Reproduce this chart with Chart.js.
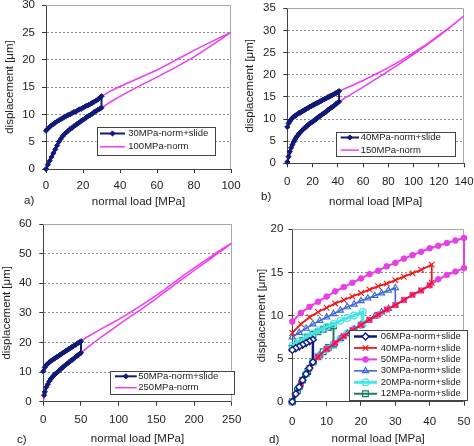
<!DOCTYPE html>
<html><head><meta charset="utf-8">
<script src="https://cdn.jsdelivr.net/npm/chart.js@4.4.0/dist/chart.umd.min.js"></script>
<style>
html,body{margin:0;padding:0;background:#fff;}
#wrap{position:relative;width:474px;height:446px;overflow:hidden;background:#fff;}
#wrap canvas{position:absolute;left:0;top:0;}
</style></head><body>
<div id="wrap">
<canvas id="ca" width="474" height="446"></canvas>
<canvas id="cb" width="474" height="446"></canvas>
<canvas id="cc" width="474" height="446"></canvas>
<canvas id="cd" width="474" height="446"></canvas>
</div>
<script>
// ---------- tick labels ----------
const aXTicks = [0,20,40,60,80,100];
const aYTicks = [0,5,10,15,20,25,30];
const bXTicks = [0,20,40,60,80,100,120,140];
const bYTicks = [0,5,10,15,20,25,30,35];
const cXTicks = [0,50,100,150,200,250];
const cYTicks = [0,10,20,30,40,50,60];
const dXTicks = [0,10,20,30,40,50];
const dYTicks = [0,5,10,15,20];
const xTitle = 'normal load [MPa]';
const yTitle = 'displacement [\u03bcm]';

// ---------- a) ----------
const aLabels = ['30MPa-norm+slide','100MPa-norm'];
const aSlideLoadX = [0,1,2,3,4,5,6,7,8,9,10,11,12,13,14,15,16,17,18,19,20,21,22,23,24,25,26,27,28,29,30];
const aSlideLoadY = [0,0.8,1.5,2.2,2.9,3.6,4.3,5.0,5.5,6.0,6.4,6.7,7.0,7.3,7.5,7.8,8.0,8.3,8.5,8.8,9.0,9.2,9.5,9.7,9.9,10.1,10.4,10.6,10.8,11.0,11.2];
const aSlideUnloadX = [30,29,28,27,26,25,24,23,22,21,20,19,18,17,16,15,14,13,12,11,10,9,8,7,6,5,4,3,2,1,0];
const aSlideUnloadY = [13.3,13.0,12.7,12.5,12.3,12.1,11.9,11.7,11.6,11.4,11.2,11.0,10.9,10.7,10.5,10.4,10.2,10.0,9.9,9.7,9.5,9.3,9.1,8.9,8.7,8.5,8.2,8.0,7.7,7.4,7.0];
const aNormX = [0,2,5,10,15,20,25,30,35,40,50,60,70,80,90,100,90,80,70,60,50,40,35,30];
const aNormY = [0,1.5,3.6,6.4,7.8,9.0,10.1,11.2,12.3,13.3,15.1,16.8,18.6,20.5,22.7,25.0,23.4,21.7,19.9,18.1,16.6,15.1,14.3,13.3];

// ---------- b) ----------
const bLabels = ['40MPa-norm+slide','150MPa-norm'];
const bSlideLoadX = [0,1,2,3,4,5,6,7,8,9,10,11,12,13,14,15,16,17,18,19,20,21,22,23,24,25,26,27,28,29,30,31,32,33,34,35,36,37,38,39,40,41];
const bSlideLoadY = [0.3,1.5,2.6,3.5,4.2,4.8,5.3,5.8,6.2,6.6,6.9,7.2,7.5,7.8,8.0,8.3,8.5,8.8,9.0,9.2,9.4,9.6,9.8,10.0,10.3,10.5,10.7,10.9,11.1,11.3,11.5,11.7,12.0,12.2,12.4,12.6,12.8,13.0,13.3,13.5,13.7,13.9];
const bSlideUnloadX = [41,40,39,38,37,36,35,34,33,32,31,30,29,28,27,26,25,24,23,22,21,20,19,18,17,16,15,14,13,12,11,10,9,8,7,6,5,4,3,2,1,0];
const bSlideUnloadY = [16.3,16.1,15.9,15.8,15.6,15.5,15.3,15.2,15.0,14.9,14.7,14.6,14.4,14.3,14.1,14.0,13.8,13.7,13.5,13.4,13.2,13.1,12.9,12.8,12.6,12.4,12.3,12.1,11.9,11.8,11.6,11.4,11.3,11.1,10.9,10.7,10.5,10.2,9.9,9.5,9.0,8.2];
const bNormX = [0,5,10,20,30,41,50,60,70,80,90,100,110,120,130,140,130,120,110,100,90,80,70,60,50,41];
const bNormY = [0,4.8,6.9,9.4,11.5,13.9,15.5,17.2,19.0,20.8,22.7,24.6,26.6,28.7,30.9,33.3,31.0,28.9,26.8,25.0,23.2,21.6,20.1,18.7,17.4,16.3];

// ---------- c) ----------
const cLabels = ['50MPa-norm+slide','250MPa-norm'];
const cSlideLoadX = [1,2,4,6,8,10,12,14,16,18,20,22,24,26,28,30,32,34,36,38,40,42,44,46,48,50];
const cSlideLoadY = [2.2,3.3,4.9,5.9,6.9,7.7,8.3,8.9,9.4,9.8,10.3,10.7,11.2,11.6,12.1,12.5,12.9,13.3,13.7,14.1,14.5,14.9,15.3,15.7,16.1,16.5];
const cSlideUnloadX = [50,48,46,44,42,40,38,36,34,32,30,28,26,24,22,20,18,16,14,12,10,8,6,4,2,0];
const cSlideUnloadY = [20.4,20.1,19.8,19.4,19.1,18.8,18.5,18.1,17.8,17.5,17.1,16.8,16.5,16.1,15.8,15.4,15.1,14.8,14.4,14.1,13.7,13.3,12.9,12.3,11.6,10.3];
const cNormX = [0,2,10,20,30,40,50,60,70,80,90,100,110,120,130,140,150,160,170,180,190,200,210,220,230,240,250,240,230,220,210,200,190,180,170,160,150,140,130,120,110,100,90,80,70,60,50];
const cNormY = [0,3.3,7.7,10.3,12.5,14.5,16.5,18.6,20.5,22.4,24.2,26.0,27.8,29.5,31.2,33.0,34.9,36.8,38.7,40.6,42.4,44.3,46.1,47.9,49.8,51.6,53.5,52.0,50.3,48.6,46.9,45.1,43.3,41.5,39.6,37.7,35.9,34.2,32.5,30.9,29.3,27.8,26.4,25.0,23.6,22.1,20.5];

// ---------- d) ----------
const dLabels = ['06MPa-norm+slide','40MPa-norm+slide','50MPa-norm+slide','30MPa-norm+slide','20MPa-norm+slide','12MPa-norm+slide'];
const d06LoadX = [0,1,2,3,4,5,6];
const d06LoadY = [0,0.9,1.7,2.5,3.2,3.9,4.6];
const d06UnloadX = [6,5,4,3,2,1,0];
const d06UnloadY = [7.2,7.0,6.8,6.6,6.4,6.2,6.0];
const d40LoadX = [0,2.5,5,7.5,10,12.5,15,17.5,20,22.5,25,27.5,30,32.5,35,37.5,40,40.6];
const d40LoadY = [0,2.1,3.9,5.2,6.1,6.8,7.6,8.3,8.9,9.5,10.1,10.7,11.2,11.8,12.4,12.9,13.5,13.8];
const d40UnloadX = [40.6,37.5,35,32.5,30,27.5,25,22.5,20,17.5,15,12.5,10,7.5,5,2.5,0];
const d40UnloadY = [15.9,15.3,14.9,14.5,14.1,13.7,13.4,13.0,12.6,12.2,11.8,11.4,10.9,10.4,9.8,9.0,8.0];
const d50LoadX = [0,2.5,5,7.5,10,12.5,15,17.5,20,22.5,25,27.5,30,32.5,35,37.5,40,42.5,45,47.5,50];
const d50LoadY = [0,2.1,3.9,5.2,6.1,6.8,7.6,8.3,8.9,9.5,10.1,10.7,11.2,11.8,12.4,12.9,13.5,14.2,14.7,15.1,15.5];
const d50UnloadX = [50,47.5,45,42.5,40,37.5,35,32.5,30,27.5,25,22.5,20,17.5,15,12.5,10,7.5,5,2.5,0];
const d50UnloadY = [19.0,18.7,18.4,18.1,17.8,17.4,17.0,16.6,16.1,15.7,15.2,14.8,14.3,13.8,13.3,12.8,12.2,11.6,11.0,10.3,9.3];
const d30LoadX = [0,2,4,6,8,10,12,14,16,18,20,22,24,26,28,30];
const d30LoadY = [0,1.7,3.2,4.6,5.4,6.1,6.6,7.3,7.9,8.4,8.9,9.4,9.9,10.4,10.8,11.2];
const d30UnloadX = [30,28,26,24,22,20,18,16,14,12,10,8,6,4,2,0];
const d30UnloadY = [13.2,12.9,12.6,12.3,12.0,11.7,11.3,11.0,10.6,10.2,9.8,9.4,9.0,8.5,8.0,7.5];
const d20LoadX = [0,2,4,6,8,10,12,14,16,18,20,20.5];
const d20LoadY = [0,1.7,3.2,4.6,5.4,6.1,6.6,7.3,7.9,8.4,8.9,9.0];
const d20UnloadX = [20.5,18,16,14,12,10,8,6,4,2,0];
const d20UnloadY = [10.4,10.0,9.7,9.4,9.0,8.7,8.3,7.9,7.5,7.0,6.5];
const d12LoadX = [0,1.5,3,4.5,6,7.5,9,10.5,12];
const d12LoadY = [0,1.3,2.5,3.5,4.6,5.2,5.8,6.3,6.6];
const d12UnloadX = [12,10.5,9,7.5,6,4.5,3,1.5,0];
const d12UnloadY = [8.8,8.6,8.4,8.1,7.8,7.5,7.1,6.7,6.2];

// ---------- helpers ----------
function pts(xs, ys) { return xs.map((x, i) => ({x: x, y: ys[i]})); }
function path(lx, ly, ux, uy) { return pts(lx, ly).concat(pts(ux, uy)); }

const FONT = "'Liberation Sans', Arial, sans-serif";
const TXT = '#222';
const NAVY = '#121a78';
const PINK = '#f03cf0';
const LEGFONT = '9.5px ' + FONT;

const decor = {
  id: 'decor',
  beforeDatasetsDraw(chart) {
    const {ctx, chartArea: a} = chart;
    ctx.save();
    ctx.strokeStyle = '#a8a8a8'; ctx.lineWidth = 1; ctx.setLineDash([]);
    ctx.beginPath();
    ctx.moveTo(a.left, Math.round(a.top) + 0.5);
    ctx.lineTo(Math.round(a.right) - 0.5, Math.round(a.top) + 0.5);
    ctx.lineTo(Math.round(a.right) - 0.5, a.bottom);
    ctx.stroke();
    ctx.restore();
  },
  afterDraw(chart) {
    const o = chart.options.plugins.decor;
    const ctx = chart.ctx;
    const L = o.legend;
    ctx.save();
    ctx.setLineDash([]);
    ctx.fillStyle = '#fff';
    ctx.fillRect(L.x, L.y, L.w, L.h);
    ctx.strokeStyle = '#444'; ctx.lineWidth = 1;
    ctx.strokeRect(Math.round(L.x) + 0.5, Math.round(L.y) + 0.5, Math.round(L.w), Math.round(L.h));
    chart.data.datasets.forEach((ds, i) => {
      const y = L.y + L.first + i * L.rowH;
      ctx.strokeStyle = ds.borderColor; ctx.lineWidth = ds.borderWidth;
      ctx.beginPath(); ctx.moveTo(L.s0, y); ctx.lineTo(L.s1, y); ctx.stroke();
      if (ds.pointRadius > 0) {
        ctx.fillStyle = ds.pointBackgroundColor;
        ctx.strokeStyle = ds.pointBorderColor;
        ctx.lineWidth = ds.pointBorderWidth;
        Chart.helpers.drawPoint(ctx, {pointStyle: ds.pointStyle, radius: ds.pointRadius, rotation: 0, borderWidth: ds.pointBorderWidth}, (L.s0 + L.s1) / 2, y);
      }
      ctx.fillStyle = TXT; ctx.font = L.font; ctx.textBaseline = 'middle'; ctx.textAlign = 'left';
      ctx.fillText(ds.label, L.tx, y);
    });
    ctx.fillStyle = TXT; ctx.font = o.tagFont; ctx.textBaseline = 'middle'; ctx.textAlign = 'left';
    ctx.fillText(o.tag, o.tagX, o.tagY);
    ctx.restore();
  }
};

function makePanel(id, P) {
  const yW = P.area.left - P.lp;
  const xH = P.xBottom - P.area.bottom;
  const tickFont = {family: FONT, size: 11.5};
  return new Chart(document.getElementById(id), {
    type: 'scatter',
    data: {datasets: P.datasets},
    options: {
      responsive: false, animation: false, events: [],
      layout: {autoPadding: false, padding: {left: P.lp, top: P.area.top, right: 474 - P.area.right, bottom: 446 - P.xBottom}},
      plugins: {
        legend: {display: false}, tooltip: {enabled: false},
        decor: {legend: P.legend, tag: P.tag, tagX: P.tagX, tagY: P.tagY, tagFont: '11.5px ' + FONT}
      },
      scales: {
        x: {
          type: 'linear', min: P.xt[0], max: P.xt[P.xt.length - 1],
          ticks: {stepSize: P.xt[1] - P.xt[0], font: tickFont, color: TXT, padding: P.xPad, maxRotation: 0, autoSkip: false},
          grid: {drawOnChartArea: false, drawTicks: true, tickLength: 4, tickColor: '#333', color: '#333'},
          border: {color: '#444', width: 1},
          title: {display: true, text: xTitle, font: tickFont, color: TXT, padding: {top: 0, bottom: P.xTitlePad}},
          afterFit(s) { s.height = xH; s.paddingLeft = 0; s.paddingRight = 0; }
        },
        y: {
          type: 'linear', min: P.yt[0], max: P.yt[P.yt.length - 1],
          ticks: {stepSize: P.yt[1] - P.yt[0], font: tickFont, color: TXT, padding: P.yPad},
          grid: {drawOnChartArea: true, drawTicks: true, tickLength: 4, tickColor: '#333', color: '#8a8a8a', tickBorderDash: []},
          border: {color: '#444', width: 1, dash: [2, 2]},
          title: {display: true, text: yTitle, font: tickFont, color: TXT, padding: {top: P.yTitlePad, bottom: 0}},
          afterFit(s) { s.width = yW; s.paddingTop = 0; s.paddingBottom = 0; }
        }
      }
    },
    plugins: [decor]
  });
}

function slideSet(label, data) {
  return {label: label, data: data, showLine: true, borderColor: NAVY, borderWidth: 2,
    pointStyle: 'rectRot', pointRadius: 2.6, pointBackgroundColor: NAVY, pointBorderColor: NAVY, pointBorderWidth: 1, clip: false};
}
function normSet(label, data) {
  return {label: label, data: data, showLine: true, borderColor: PINK, borderWidth: 1.5, pointRadius: 0,
    pointStyle: 'circle', pointBackgroundColor: PINK, pointBorderColor: PINK, pointBorderWidth: 0};
}
function dSet(label, data, color, width, style, radius, bg, bw) {
  return {label: label, data: data, showLine: true, borderColor: color, borderWidth: width,
    pointStyle: style, pointRadius: radius, pointBackgroundColor: bg, pointBorderColor: color, pointBorderWidth: bw, clip: false};
}

makePanel('ca', {
  area: {left: 46, right: 231, top: 5, bottom: 169}, lp: 0, xBottom: 212,
  xt: aXTicks, yt: aYTicks, xPad: 6, yPad: 7, xTitlePad: 3.4, yTitlePad: 3.1,
  tag: 'a)', tagX: 24, tagY: 201,
  legend: {x: 96.5, y: 126.5, w: 118, h: 28, first: 7, rowH: 13.3, s0: 100, s1: 125, tx: 128.3, font: LEGFONT},
  datasets: [
    slideSet(aLabels[0], path(aSlideLoadX, aSlideLoadY, aSlideUnloadX, aSlideUnloadY)),
    normSet(aLabels[1], pts(aNormX, aNormY))
  ]
});

makePanel('cb', {
  area: {left: 287.3, right: 464, top: 8.3, bottom: 163.3}, lp: 240, xBottom: 212,
  xt: bXTicks, yt: bYTicks, xPad: 7.2, yPad: 7.5, xTitlePad: 3.4, yTitlePad: 2.6,
  tag: 'b)', tagX: 261, tagY: 197,
  legend: {x: 335.5, y: 131.5, w: 118.5, h: 23.5, first: 6, rowH: 12.6, s0: 340.7, s1: 359, tx: 360.7, font: LEGFONT},
  datasets: [
    slideSet(bLabels[0], path(bSlideLoadX, bSlideLoadY, bSlideUnloadX, bSlideUnloadY)),
    normSet(bLabels[1], pts(bNormX, bNormY))
  ]
});

makePanel('cc', {
  area: {left: 43.3, right: 231.7, top: 224, bottom: 401.7}, lp: 0, xBottom: 446,
  xt: cXTicks, yt: cYTicks, xPad: 7.1, yPad: 7.6, xTitlePad: 0, yTitlePad: 0.4,
  tag: 'c)', tagX: 17, tagY: 440,
  legend: {x: 110, y: 370.5, w: 123.5, h: 23, first: 5.8, rowH: 11.4, s0: 115, s1: 136.7, tx: 138.3, font: LEGFONT},
  datasets: [
    slideSet(cLabels[0], path(cSlideLoadX, cSlideLoadY, cSlideUnloadX, cSlideUnloadY)),
    normSet(cLabels[1], pts(cNormX, cNormY))
  ]
});

makePanel('cd', {
  area: {left: 292.3, right: 464, top: 229.3, bottom: 401.7}, lp: 252, xBottom: 446,
  xt: dXTicks, yt: dYTicks, xPad: 8.8, yPad: 5, xTitlePad: 0, yTitlePad: 3.4,
  tag: 'd)', tagX: 269, tagY: 440,
  legend: {x: 349, y: 330, w: 117.5, h: 70, first: 6.5, rowH: 11.45, s0: 354, s1: 377, tx: 380.7, font: LEGFONT},
  datasets: [
    dSet(dLabels[0], path(d06LoadX, d06LoadY, d06UnloadX, d06UnloadY), '#0c1a82', 2.5, 'rectRot', 3.4, '#ffffff', 1.4),
    dSet(dLabels[1], path(d40LoadX, d40LoadY, d40UnloadX, d40UnloadY), '#f01818', 1.8, 'crossRot', 4, '#f01818', 1.1),
    dSet(dLabels[2], path(d50LoadX, d50LoadY, d50UnloadX, d50UnloadY), '#e83ee8', 2, 'circle', 2.8, '#e83ee8', 1),
    dSet(dLabels[3], path(d30LoadX, d30LoadY, d30UnloadX, d30UnloadY), '#3a68d8', 1.6, 'triangle', 3.6, 'rgba(255,255,255,0)', 1.1),
    dSet(dLabels[4], path(d20LoadX, d20LoadY, d20UnloadX, d20UnloadY), '#44e6e6', 3, 'circle', 3.4, 'rgba(255,255,255,0)', 1.2),
    dSet(dLabels[5], path(d12LoadX, d12LoadY, d12UnloadX, d12UnloadY), '#1f7a68', 2, 'rect', 4, 'rgba(255,255,255,0)', 1.2)
  ]
});
</script>
</body></html>
